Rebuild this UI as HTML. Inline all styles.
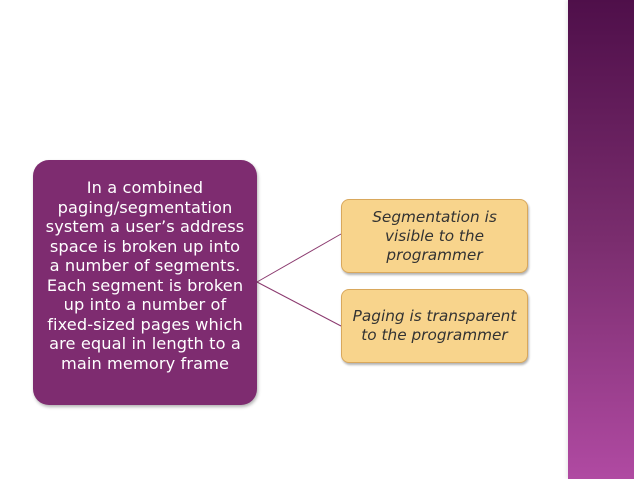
<!DOCTYPE html>
<html><head><style>
body{margin:0;width:638px;height:479px;background:#fff;position:relative;overflow:hidden;font-family:"DejaVu Sans","Liberation Sans",sans-serif;}
.bar{position:absolute;left:568px;top:0;width:66px;height:479px;background:linear-gradient(#4f0f4a,#7a2d6e 50%,#b04aa2);box-shadow:-2px 0 3px #eee;}
.main{position:absolute;left:33px;top:160px;width:224px;height:245px;background:#7e2c70;border-radius:16px;color:#fff;font-size:16.2px;line-height:19.5px;text-align:center;box-sizing:border-box;padding-top:18px;letter-spacing:0.1px;box-shadow:1px 2px 3px rgba(0,0,0,.3);}
.y{position:absolute;left:341px;width:187px;height:74px;background:#f8d48c;border-radius:8px;border:1px solid #d9a85c;box-sizing:border-box;font-style:italic;color:#333;font-size:15.3px;line-height:19px;text-align:center;display:flex;align-items:center;justify-content:center;box-shadow:1px 2px 2px rgba(0,0,0,.3);}
</style></head><body>
<div class="bar"></div>
<svg style="position:absolute;left:0;top:0" width="638" height="479"><line x1="257" y1="282" x2="341" y2="234" stroke="#8b3a6f" stroke-width="1"/><line x1="257" y1="282" x2="341" y2="326" stroke="#8b3a6f" stroke-width="1"/></svg>
<div class="main">In a combined<br>paging/segmentation<br>system a user’s address<br>space is broken up into<br>a number of segments.<br>Each segment is broken<br>up into a number of<br>fixed-sized pages which<br>are equal in length to a<br>main memory frame</div>
<div class="y" style="top:199px">Segmentation is<br>visible to the<br>programmer</div>
<div class="y" style="top:289px;white-space:nowrap">Paging is transparent<br>to the programmer</div>
</body></html>
